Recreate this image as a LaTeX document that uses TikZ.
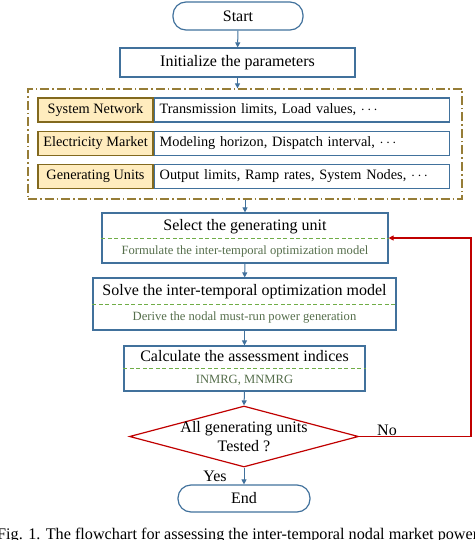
\documentclass[tikz,border=0pt]{standalone}
\usepackage{fontspec}
\setmainfont{Liberation Serif}
\usetikzlibrary{shapes.geometric,arrows.meta}
\definecolor{bline}{RGB}{65,113,156}
\definecolor{gfill}{RGB}{255,236,190}
\definecolor{gline}{RGB}{130,105,30}
\definecolor{fline}{RGB}{150,125,55}
\definecolor{gdash}{RGB}{112,173,71}
\definecolor{subtxt}{RGB}{85,110,75}
\definecolor{rline}{RGB}{192,0,0}
\begin{document}
\begin{tikzpicture}[x=1pt,y=-1pt,
  mainfont/.style={font=\fontsize{16}{18}\selectfont},
  rowfont/.style={font=\fontsize{14.3}{16}\selectfont},
  subfont/.style={font=\fontsize{12.6}{14}\selectfont, text=subtxt},
  terminal/.style={draw=bline, line width=1.2pt, rounded corners=13pt, inner sep=0pt, mainfont},
  procbox/.style={draw=bline, line width=1.2pt, inner sep=0pt},
  leftbox/.style={draw=gline, fill=gfill, line width=1.2pt, inner sep=0pt, minimum width=115pt, minimum height=24pt, rowfont},
  rightbox/.style={draw=bline, line width=1.2pt, inner sep=0pt, minimum width=295pt, minimum height=24pt, rowfont, text width=284pt, align=left},
  flow/.style={draw=bline, line width=1pt, -{Triangle[width=5pt,length=5pt]}},
  back/.style={draw=rline, line width=1.2pt, -{Triangle[width=5pt,length=5pt]}},
  sep/.style={draw=gdash, line width=1pt, dash pattern=on 4pt off 2.5pt},
  lbl/.style={inner sep=0pt, mainfont}
]
\useasboundingbox (0,0) rectangle (474,540);

% terminals and init
\node[terminal, minimum width=130pt, minimum height=28pt] (start) at (238,16) {Start};
\node[procbox, minimum width=235pt, minimum height=29pt, mainfont] (init) at (237.5,62.5) {Initialize the parameters};

% frame
\node[draw=fline, line width=1.2pt, dash pattern=on 9pt off 3pt on 1.5pt off 3pt, minimum width=434pt, minimum height=110pt, inner sep=0pt] (frame) at (245,144) {};

% parameter rows
\node[leftbox] (sn) at (95.5,110) {System Network};
\node[rightbox, anchor=west] (snv) at (sn.east) {Transmission limits, Load values,\ $\cdots$};
\node[leftbox] (em) at (95.5,143.5) {Electricity Market};
\node[rightbox, anchor=west] (emv) at (em.east) {Modeling horizon, Dispatch interval,\ $\cdots$};
\node[leftbox] (gu) at (95.5,176.5) {Generating Units};
\node[rightbox, anchor=west] (guv) at (gu.east) {Output limits, Ramp rates, System Nodes,\ $\cdots$};

% select
\node[procbox, minimum width=286pt, minimum height=50pt] (sel) at (245,238) {};
\node[lbl] (selt) at (245,226.5) {Select the generating unit};
\node[inner sep=0pt, subfont] (sels) at (245,251.5) {Formulate the inter-temporal optimization model};
\draw[sep] (sel.west) -- (sel.east);

% solve
\node[procbox, minimum width=303pt, minimum height=52pt] (sol) at (244.5,304) {};
\node[lbl] (solt) at (244.5,291.5) {Solve the inter-temporal optimization model};
\node[inner sep=0pt, subfont] (sols) at (244.5,317) {Derive the nodal must-run power generation};
\draw[sep] (sol.west) -- (sol.east);

% calc
\node[procbox, minimum width=241pt, minimum height=45pt] (cal) at (244.5,368.5) {};
\node[lbl] (calt) at (244.5,356.5) {Calculate the assessment indices};
\node[inner sep=0pt, subfont] (cals) at (244.5,380) {INMRG, MNMRG};
\draw[sep] (cal.west) -- (cal.east);

% decision
\node[diamond, draw=rline, line width=1.2pt, minimum width=229pt, minimum height=61pt, inner sep=0pt] (dec) at (244,436.5) {};
\node[lbl, align=center, font=\fontsize{16}{19}\selectfont] (dect) at (244,437) {All generating units\\Tested ?};

% end
\node[terminal, minimum width=132pt, minimum height=27pt] (end) at (244,498.5) {End};

% connectors
\draw[flow] (start) -- (init);
\draw[flow] (init.south) -- (init.south |- frame.north);
\coordinate (fb) at (sel.north |- frame.south);
\draw[flow] (fb) -- (sel.north);
\draw[flow] (sel) -- (sol);
\draw[flow] (sol) -- (cal);
\draw[flow] (cal.south) -- (dec.north);
\draw[flow] (dec.south) -- (end.north);
\coordinate (rc) at (471,436.5);
\draw[back] (dec.east) -- (rc) |- (sel.east);

\node[lbl] (no) at (387,430) {No};
\node[lbl] (yes) at (215,476) {Yes};

% caption
\node[anchor=base west, inner sep=0pt, font=\fontsize{16.2}{18}\selectfont] (cap) at (-3,539) {Fig. 1. The flowchart for assessing the inter-temporal nodal market power};
\end{tikzpicture}
\end{document}
